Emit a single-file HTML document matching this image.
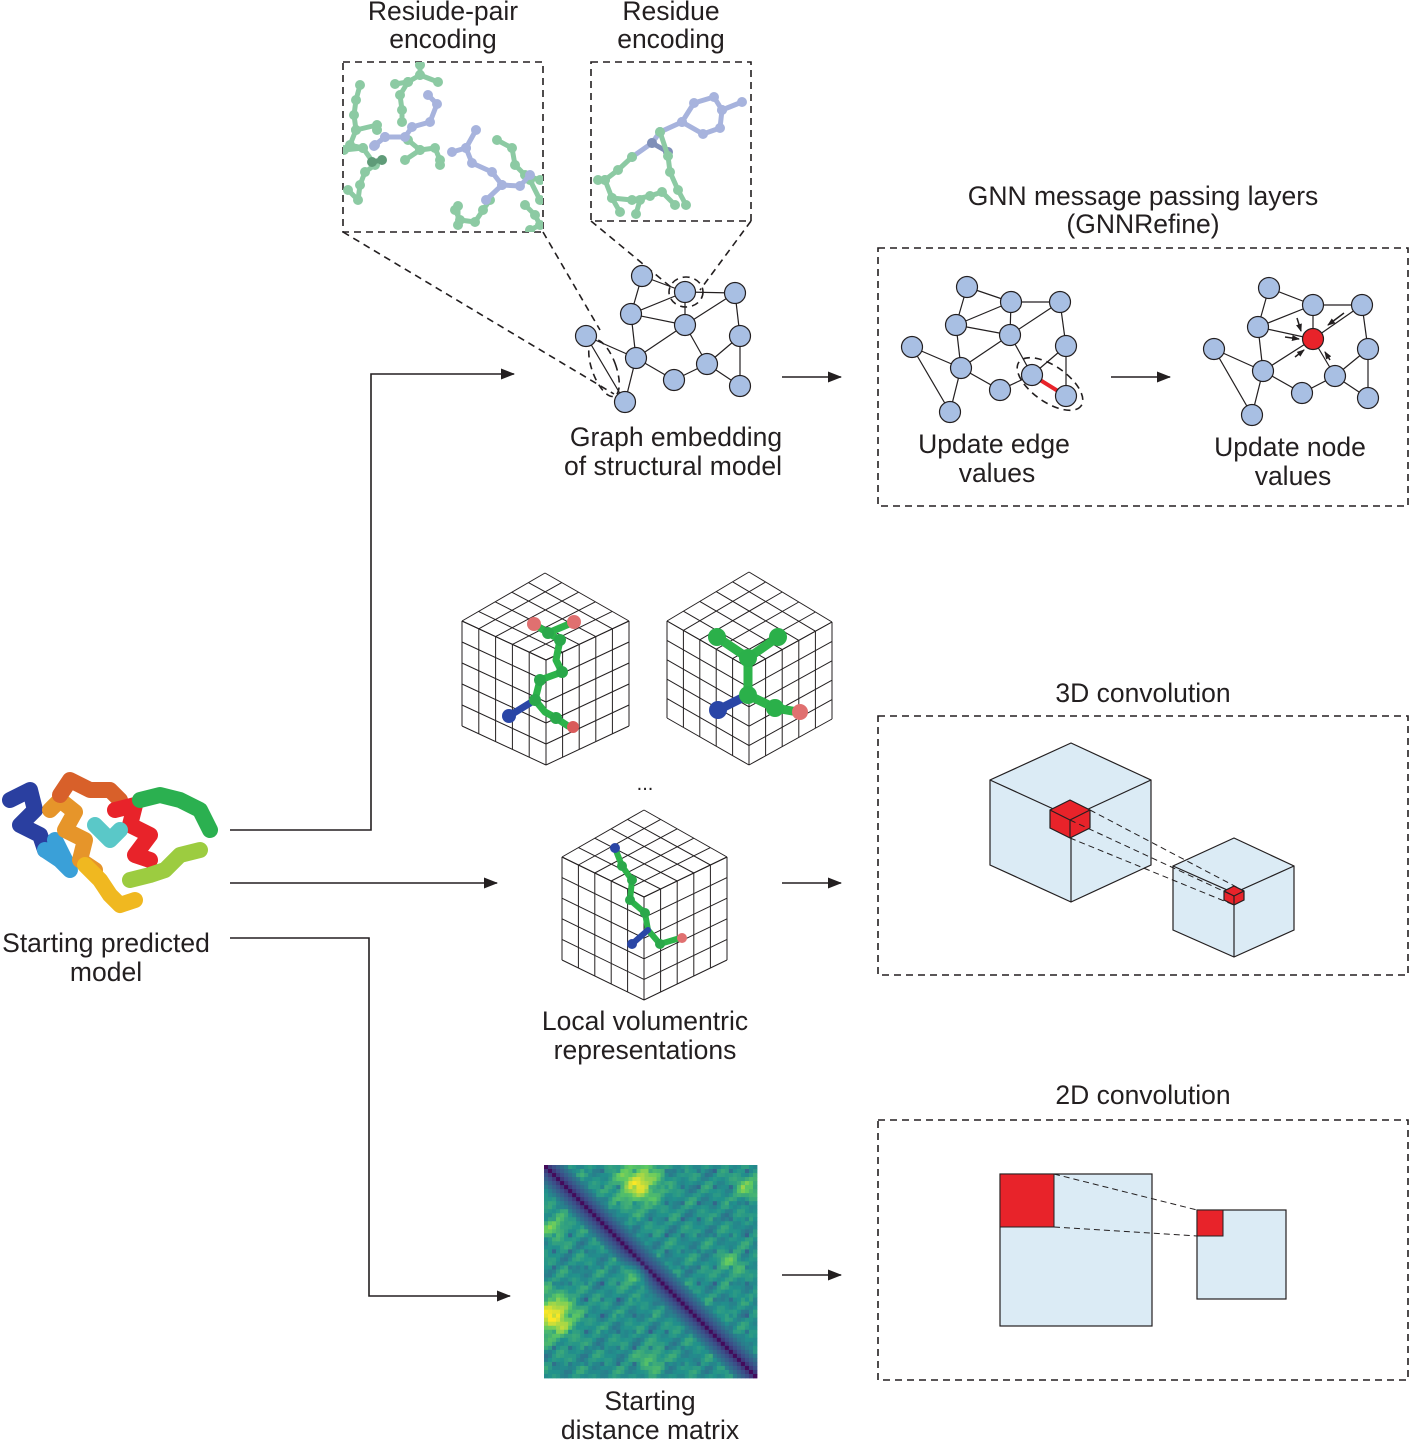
<!DOCTYPE html>
<html><head><meta charset="utf-8"><style>
html,body{margin:0;padding:0;background:#fff}
svg{display:block}
text{font-family:"Liberation Sans",Arial,sans-serif;font-size:26.5px;fill:#231f20;text-anchor:middle}
</style></head><body>
<svg id="s" width="1409" height="1441" viewBox="0 0 1409 1441" xmlns="http://www.w3.org/2000/svg">
<defs>
<marker id="ar" markerWidth="14" markerHeight="11" refX="13" refY="5.5" orient="auto" markerUnits="userSpaceOnUse"><path d="M0,0 L14,5.5 L0,11 z" fill="#231f20"/></marker>
<marker id="ars" markerWidth="8" markerHeight="6" refX="7" refY="3" orient="auto" markerUnits="userSpaceOnUse"><path d="M0,0 L8,3 L0,6 z" fill="#231f20"/></marker>
<clipPath id="c1"><rect x="343" y="62" width="200" height="170"/></clipPath>
<clipPath id="c2"><rect x="591" y="62" width="160" height="159"/></clipPath>
</defs>
<text x="443" y="20">Resiude-pair</text><text x="443" y="48">encoding</text>
<text x="671" y="20">Residue</text><text x="671" y="48">encoding</text>
<text x="676" y="446">Graph embedding</text><text x="673" y="475">of structural model</text>
<text x="1143" y="205">GNN message passing layers</text><text x="1143" y="233">(GNNRefine)</text>
<text x="994" y="453">Update edge</text><text x="997" y="482">values</text>
<text x="1290" y="456">Update node</text><text x="1293" y="485">values</text>
<text x="1143" y="702">3D convolution</text>
<text x="1143" y="1104">2D convolution</text>
<text x="645" y="1030">Local volumentric</text><text x="645" y="1059">representations</text>
<text x="645" y="790" style="font-size:20px">...</text>
<text x="106" y="952">Starting predicted</text><text x="106" y="981">model</text>
<text x="650" y="1410">Starting</text><text x="650" y="1439">distance matrix</text>
<g fill="none" stroke="#231f20" stroke-width="1.6" stroke-dasharray="7,5">
<rect x="343" y="62" width="200" height="170"/>
<rect x="591" y="62" width="160" height="159"/>
<rect x="878" y="248" width="530" height="258"/>
<rect x="878" y="716" width="530" height="259"/>
<rect x="878" y="1120" width="530" height="260"/>
<line x1="343" y1="232" x2="614" y2="394"/>
<line x1="543" y1="232" x2="600" y2="330"/>
<line x1="591" y1="221" x2="672" y2="288"/>
<line x1="751" y1="221" x2="700" y2="290"/>
<ellipse cx="686" cy="292" rx="17" ry="15"/>
<ellipse cx="604" cy="368" rx="12" ry="30" transform="rotate(-20 604 368)"/>
<ellipse cx="1050" cy="384" rx="38" ry="18" transform="rotate(35 1050 384)"/>
</g>
<g fill="none" stroke="#231f20" stroke-width="1.6">
<polyline points="230,830 371,830 371,374 514,374" marker-end="url(#ar)"/>
<line x1="230" y1="883" x2="497" y2="883" marker-end="url(#ar)"/>
<polyline points="230,938 369,938 369,1296 510,1296" marker-end="url(#ar)"/>
<line x1="782" y1="377" x2="841" y2="377" marker-end="url(#ar)"/>
<line x1="782" y1="883" x2="841" y2="883" marker-end="url(#ar)"/>
<line x1="782" y1="1275" x2="841" y2="1275" marker-end="url(#ar)"/>
<line x1="1111" y1="377" x2="1170" y2="377" marker-end="url(#ar)"/>
</g>
<g id="dyn"></g>
</svg>
<script>
var NS="http://www.w3.org/2000/svg",G=document.getElementById('dyn');
function el(t,a,p){var e=document.createElementNS(NS,t);for(var k in a)e.setAttribute(k,a[k]);(p||G).appendChild(e);return e;}
var E=[[0,1],[0,3],[3,1],[3,4],[1,4],[1,2],[4,2],[2,6],[3,7],[4,7],[4,8],[7,9],[9,8],[8,6],[8,10],[6,10],[5,7],[5,11],[7,11]];
function graph(P,red,redEdge){
 E.forEach(function(e,i){var a=P[e[0]],b=P[e[1]];var r=redEdge&&i==14;el('line',{x1:a[0],y1:a[1],x2:b[0],y2:b[1],stroke:r?'#e8232a':'#231f20','stroke-width':r?4:1.2});});
 P.forEach(function(p,i){el('circle',{cx:p[0],cy:p[1],r:10.5,fill:(red&&i==4)?'#e8232a':'#a8bfe3',stroke:'#231f20','stroke-width':1.2});});
}
graph([[642,276],[685,292],[735,293],[631,314],[685,325],[586,336],[740,336],[636,358],[707,364],[674,380],[740,386],[625,402]]);
graph([[967,287],[1011,302],[1060,302],[956,325],[1010,335],[912,347],[1066,346],[961,368],[1032,375],[1000,390],[1066,396],[950,412]],false,true);
graph([[1269,288],[1313,305],[1362,305],[1258,327],[1313,339],[1214,349],[1368,349],[1263,371],[1335,376],[1302,393],[1368,398],[1252,415]],true);
[[1297,318,1301,331],[1285,337,1299,339],[1295,357,1304,350],[1330,360,1325,352],[1344,313,1328,325]].forEach(function(a){el('line',{x1:a[0],y1:a[1],x2:a[2],y2:a[3],stroke:'#231f20','stroke-width':1.5,'marker-end':'url(#ars)'});});
function cube(T,L,R,F,B,n){
 var LB=[L[0],L[1]+(B[1]-F[1])],RB=[R[0],R[1]+(B[1]-F[1])];
 el('polygon',{points:[T,L,LB,B,RB,R].join(' '),fill:'#fff',stroke:'none'});
 function lerp(a,b,t){return [a[0]+(b[0]-a[0])*t,a[1]+(b[1]-a[1])*t];}
 function ln(a,b){el('line',{x1:a[0],y1:a[1],x2:b[0],y2:b[1],stroke:'#231f20','stroke-width':1});}
 for(var i=0;i<=n;i++){var t=i/n;
  ln(lerp(T,L,t),lerp(R,F,t)); ln(lerp(T,R,t),lerp(L,F,t));
  ln(lerp(L,F,t),lerp(LB,B,t)); ln(lerp(L,LB,t),lerp(F,B,t));
  ln(lerp(F,R,t),lerp(B,RB,t)); ln(lerp(F,B,t),lerp(R,RB,t));}
}
cube([545,573],[462,621],[629,621],[546,660],[546,765],5);
cube([749,572],[667,621],[832,622],[749,668],[749,765],5);
cube([644,810],[562,857],[727,857],[644,897],[644,1000],5);
function mol(pts,w,col){el('polyline',{points:pts.join(' '),fill:'none',stroke:col,'stroke-width':w,'stroke-linejoin':'round','stroke-linecap':'round'});}
function balls(pts,r,col){pts.forEach(function(p){el('circle',{cx:p[0],cy:p[1],r:r,fill:col});});}
var g='#2db34a';
mol([[534,624],[548,633],[560,640],[556,660],[562,672],[540,680],[535,700],[545,712],[556,718],[568,726]],7,g);
mol([[548,633],[574,622]],7,g);mol([[535,700],[509,716]],7,'#2a46a6');
balls([[534,624],[574,622]],7,'#e07070');balls([[573,727]],6,'#d95a5a');balls([[509,716]],7,'#2a46a6');
balls([[548,633],[560,640],[562,672],[540,680],[535,700],[556,718]],6,'#2aa84a');
mol([[717,637],[748,658],[778,637]],9,g);mol([[748,658],[748,695],[775,708],[798,712]],9,g);mol([[748,695],[718,710]],9,'#2a46a6');
balls([[717,637],[778,637],[748,658],[748,695],[775,708]],9,'#2bb04a');balls([[718,710]],9,'#2a46a6');balls([[800,712]],8,'#e07070');
mol([[615,848],[622,866],[632,880],[630,900],[645,913],[648,930],[660,944],[680,938]],6,g);mol([[648,930],[632,944]],6,'#2a46a6');
balls([[615,848]],5,'#2a46a6');balls([[632,944]],5,'#2a46a6');balls([[682,938]],5,'#e07070');
balls([[622,866],[632,880],[630,900],[645,913],[660,944]],5,'#2aa84a');
var B1=el('g',{'clip-path':'url(#c1)'}),B2=el('g',{'clip-path':'url(#c2)'});
var gr='#8ccaa3',lv='#a7b3dd';
function Mg(par,pts,col){el('polyline',{points:pts.join(' '),fill:'none',stroke:col,'stroke-width':5,'stroke-linejoin':'round'},par);pts.forEach(function(p){el('circle',{cx:p[0],cy:p[1],r:5,fill:col},par);});}
Mg(B1,[[360,85],[356,100],[354,115],[356,130],[350,145],[363,148],[375,165],[365,172],[360,185],[358,200],[348,190]],gr);
Mg(B1,[[356,130],[377,125],[377,130]],gr);Mg(B1,[[363,148],[344,150]],gr);Mg(B1,[[372,162],[382,160]],'#5f9b78');
Mg(B1,[[420,65],[420,75],[408,82],[400,95],[402,110],[402,122]],gr);Mg(B1,[[420,75],[438,82]],gr);Mg(B1,[[408,82],[395,84]],gr);
Mg(B1,[[408,140],[420,150],[435,148],[440,160],[440,165]],gr);Mg(B1,[[420,150],[405,160]],gr);
Mg(B1,[[497,140],[512,148],[515,165],[525,175],[540,180]],gr);Mg(B1,[[455,210],[460,220],[475,222],[483,210],[490,200]],gr);Mg(B1,[[458,206],[458,225]],gr);
Mg(B1,[[525,205],[535,215],[540,225],[530,230]],gr);Mg(B1,[[530,180],[540,200]],gr);
Mg(B1,[[375,145],[385,137],[405,137],[412,127],[430,122],[437,104],[428,95]],lv);Mg(B1,[[385,137],[374,146]],lv);
Mg(B1,[[452,152],[466,148],[476,130]],lv);Mg(B1,[[466,148],[472,163],[492,172],[502,185],[486,200]],lv);Mg(B1,[[502,185],[520,186],[530,175]],lv);
Mg(B2,[[632,157],[652,143],[660,132],[682,122],[694,103],[714,97],[722,110],[720,128],[703,134],[682,122]],lv);Mg(B2,[[722,110],[742,102]],lv);
Mg(B2,[[652,143],[668,152]],'#7f8fb8');Mg(B2,[[660,132],[668,156],[670,172],[678,190],[686,205]],gr);
Mg(B2,[[632,157],[618,170],[605,180],[612,198],[620,212]],gr);Mg(B2,[[598,180],[605,180]],gr);Mg(B2,[[612,198],[632,200],[650,196],[662,192],[675,205]],gr);Mg(B2,[[640,200],[636,214]],gr);
var prot=[['#2a3fa0',[[10,800],[30,790],[35,810],[20,825],[40,835],[45,850]]],['#3aa0d8',[[45,850],[60,860],[70,870],[55,840]]],['#e6952a',[[50,810],[60,800],[75,812],[65,830],[85,840],[80,860],[95,870]]],['#f0b820',[[85,865],[100,880],[110,895],[120,905],[135,900]]],['#d8602a',[[60,795],[70,780],[90,790],[110,790],[120,800]]],['#e8232a',[[115,810],[135,805],[130,825],[150,835],[135,855],[150,860]]],['#2bb050',[[140,800],[160,795],[180,800],[200,810],[210,830]]],['#9ccc40',[[130,880],[150,875],[165,870],[180,855],[200,850]]],['#5ac8c8',[[95,825],[110,840],[120,830]]]];
prot.forEach(function(p){el('polyline',{points:p[1].join(' '),fill:'none',stroke:p[0],'stroke-width':16,'stroke-linejoin':'round','stroke-linecap':'round'});});
var N=53,cs=213/N;
function vir(v){var s=[[68,1,84],[59,82,139],[33,145,140],[94,201,98],[253,231,37]];v=Math.max(0,Math.min(.999,v))*4;var i=Math.floor(v),f=v-i,a=s[i],b=s[i+1];return 'rgb('+[0,1,2].map(function(k){return Math.round(a[k]+(b[k]-a[k])*f)}).join(',')+')';}
var blobs=[[23,4,5,.45],[2,37,5,.5],[22,27,3,.2],[50,5,3,.25],[2,15,3,.25],[26,48,3,.2],[46,24,3,.2]];
for(var i=0;i<N;i++)for(var j=0;j<N;j++){var d=Math.abs(i-j);var v=.5+.08*Math.sin(i*.9)*Math.cos(j*.7)+.05*Math.sin((i+j)*1.3);
 if(d<6)v=.12+d*.06;if(d==0)v=.03;
 if((i%4==1&&j%4==2)&&d>8)v-=.12;
 blobs.forEach(function(b){var r=(i-b[1])*(i-b[1])+(j-b[0])*(j-b[0]);v+=b[3]*Math.exp(-r/(b[2]*b[2]));});
 el('rect',{x:544+j*cs,y:1165+i*cs,width:cs+.4,height:cs+.4,fill:vir(v)});}
function box(T,L,R,F,h,fill,st){var B=[F[0],F[1]+h],LB=[L[0],L[1]+h],RB=[R[0],R[1]+h];
 el('polygon',{points:[T,L,LB,B,RB,R].join(' '),fill:fill,stroke:st,'stroke-width':1.2});
 el('polyline',{points:[L,F,R].join(' '),fill:'none',stroke:st,'stroke-width':1.2});el('line',{x1:F[0],y1:F[1],x2:B[0],y2:B[1],stroke:st,'stroke-width':1.2});}
box([1071,743],[990,780],[1151,780],[1071,817],85,'#dbebf5','#231f20');
box([1234,838],[1173,866],[1294,866],[1234,893],64,'#dbebf5','#231f20');
box([1070,800],[1050,810],[1090,810],[1070,820],18,'#e8232a','#231f20');
box([1234,886],[1224,891],[1244,891],[1234,896],9,'#e8232a','#231f20');
[[1090,810,1244,891],[1070,820,1234,896],[1070,838,1234,905]].forEach(function(a){el('line',{x1:a[0],y1:a[1],x2:a[2],y2:a[3],stroke:'#231f20','stroke-width':1,'stroke-dasharray':'6,4'});});
el('rect',{x:1000,y:1174,width:152,height:152,fill:'#dbebf5',stroke:'#231f20','stroke-width':1.2});
el('rect',{x:1000,y:1174,width:54,height:53,fill:'#e8232a',stroke:'#231f20','stroke-width':1});
el('rect',{x:1197,y:1210,width:89,height:89,fill:'#dbebf5',stroke:'#231f20','stroke-width':1.2});
el('rect',{x:1197,y:1210,width:26,height:26,fill:'#e8232a',stroke:'#231f20','stroke-width':1});
[[1054,1174,1197,1210],[1054,1227,1197,1236]].forEach(function(a){el('line',{x1:a[0],y1:a[1],x2:a[2],y2:a[3],stroke:'#231f20','stroke-width':1,'stroke-dasharray':'6,4'});});
</script>
</body></html>
